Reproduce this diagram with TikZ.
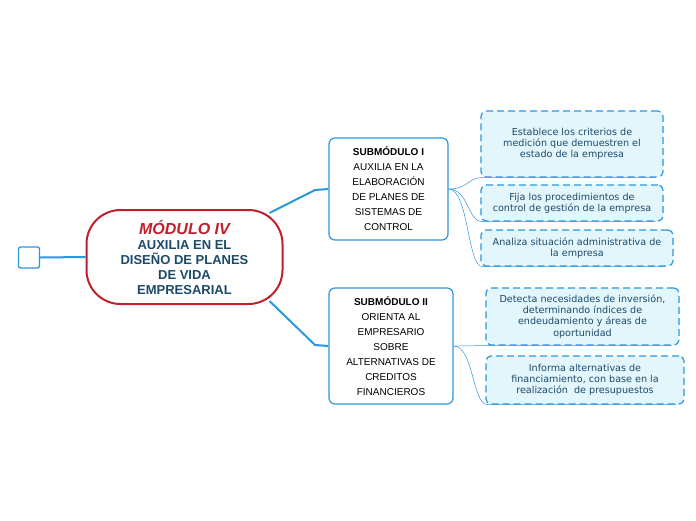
\documentclass[tikz,border=0pt]{standalone}
\usepackage{fontspec}
\setmainfont{Liberation Sans}
\newfontfamily\leaffont{DejaVu Sans}
\definecolor{lineblue}{HTML}{2A97DF}
\definecolor{navy}{HTML}{1B4A6B}
\definecolor{redc}{HTML}{C0202A}
\definecolor{leaffill}{HTML}{E3F6FB}
\begin{document}
\begin{tikzpicture}[x=1pt,y=-1pt,
  sub/.style={draw=lineblue,line width=1.2pt,rounded corners=6pt,fill=white,align=center,font=\fontsize{10}{15}\selectfont,inner sep=2pt},
  leaf/.style={draw=lineblue,line width=1.2pt,dash pattern=on 7pt off 4pt,rounded corners=5pt,fill=leaffill,align=center,font=\leaffont\fontsize{9.6}{11.3}\selectfont,text=navy,minimum height=#1,inner sep=2pt},
  conn/.style={draw=lineblue,line width=2pt},
  thin/.style={draw=lineblue,line width=0.5pt}]
\useasboundingbox (0,0) rectangle (696,520);
\node[draw=lineblue,line width=1.3pt,rounded corners=2pt,minimum width=21pt,minimum height=21pt] (root) at (29,257.5) {};
\node[draw=redc,line width=2pt,rounded corners=34pt,minimum width=196pt,minimum height=94pt,align=center,font=\bfseries\fontsize{13}{15}\selectfont,text=navy,fill=white] (c) at (184.5,257)
 {{\color{redc}\itshape\fontsize{16}{18}\selectfont MÓDULO IV}\\AUXILIA EN EL\\DISEÑO DE PLANES\\DE VIDA\\EMPRESARIAL};
\node[sub,minimum height=102pt,minimum width=119pt] (s1) at (388.5,189) {\textbf{SUBMÓDULO I}\\AUXILIA EN LA\\ELABORACIÓN\\DE PLANES DE\\SISTEMAS DE\\CONTROL};
\node[sub,minimum height=116pt,minimum width=124pt] (s2) at (391,346) {\textbf{SUBMÓDULO II}\\ORIENTA AL\\EMPRESARIO\\SOBRE\\ALTERNATIVAS DE\\CREDITOS\\FINANCIEROS};
\node[leaf=66pt,minimum width=182pt] (l1) at (572,144) {Establece los criterios de\\medición que demuestren el\\estado de la empresa};
\node[leaf=36pt,minimum width=182pt] (l2) at (572,203) {Fija los procedimientos de\\control de gestión de la empresa};
\node[leaf=36pt,minimum width=192pt] (l3) at (577,248) {Analiza situación administrativa de\\la empresa};
\node[leaf=57pt,minimum width=193pt] (l4) at (582.5,316.5) {Detecta necesidades de inversión,\\determinando índices de\\endeudamiento y áreas de\\oportunidad};
\node[leaf=48pt,minimum width=198pt] (l5) at (585,380) {Informa alternativas de\\financiamiento, con base en la\\realización\ \ de presupuestos};
\draw[conn] (root.east) -- (c.west);
\draw[conn] (c.north east) ++(-14,4) coordinate (a1) -- (315,190) -- (s1.west);
\draw[conn] (c.south east) ++(-14,-4) coordinate (a2) -- (315,345) -- (s2.west);
\foreach \l in {l1,l2,l3}{
 \draw[thin] (s1.east) .. controls +(20,0) and +(-15,0) .. ([xshift=2pt]\l.south west) -- ([xshift=-8pt]\l.south east);}
\foreach \l in {l4,l5}{
 \draw[thin] (s2.east) .. controls +(20,0) and +(-15,0) .. ([xshift=2pt]\l.south west) -- ([xshift=-8pt]\l.south east);}
\end{tikzpicture}
\end{document}
